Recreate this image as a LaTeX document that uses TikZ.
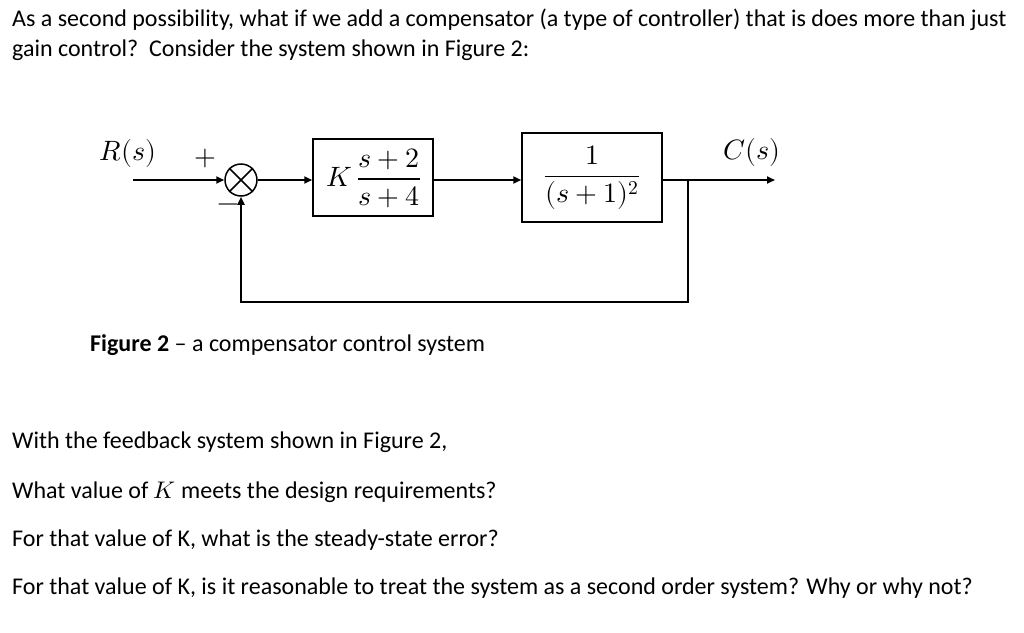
\documentclass[tikz,border=0pt]{standalone}
\usepackage{fontspec}
\usepackage{unicode-math}
\setmainfont{Carlito}
\setmathfont{Latin Modern Math}
\usetikzlibrary{arrows.meta}
\begin{document}
\begin{tikzpicture}[x=1pt,y=-1pt,
  txt/.style={anchor=west,inner sep=0pt,font=\fontsize{24}{28}\selectfont},
  blk/.style={draw,line width=1.5pt,inner sep=0pt},
  sig/.style={line width=2.2pt,-{Triangle[length=8pt,width=7pt]}},
  ml/.style={inner sep=0pt,font=\fontsize{28}{32}\selectfont}]
\useasboundingbox (0,0) rectangle (1024,632);
\node[txt] (t1) at (12,20) {As a second possibility, what if we add a compensator (a type of controller) that is does more than just};
\node[txt] (t2) at (12,50) {gain control?\ \ Consider the system shown in Figure 2:};
\node[ml] (R) at (128,153) {$R(s)$};
\node[ml] (C) at (752,152) {$C(s)$};
\coordinate (in) at (133,180);
\node[draw,circle,line width=1.5pt,minimum size=32pt,inner sep=0pt] (sum) at (241,180) {};
\draw[line width=1.5pt] (sum.north west)--(sum.south east) (sum.north east)--(sum.south west);
\node[ml] (plus) at (205,158) {$+$};
\node[ml] (minus) at (228,208) {$-$};
\node[blk,minimum width=120pt,minimum height=77pt] (b1) at (373,177.5) {};
\node[ml] (k) at (374,178) {$K\,\displaystyle\frac{s+2}{s+4}$};
\node[blk,minimum width=140pt,minimum height=89pt] (b2) at (592,177.5) {};
\node[ml] (g) at (592,178) {$\displaystyle\frac{1}{(s+1)^2}$};
\coordinate (out) at (775,180);
\coordinate (br) at (688,180);
\coordinate (fb1) at (688,302);
\coordinate (fb2) at (241,302);
\draw[sig] (in) -- (sum.west);
\draw[sig] (sum.east) -- (b1.west|-sum);
\draw[sig] (b1.east|-sum) -- (b2.west|-sum);
\draw[sig] (b2.east|-sum) -- (out);
\draw[sig] (br) -- (fb1) -- (fb2) -- (sum.south);
\node[txt] (cap) at (90,345) {\textbf{Figure 2} – a compensator control system};
\node[txt] (q1) at (12,442) {With the feedback system shown in Figure 2,};
\node[txt] (q2) at (12,492) {What value of $K$ meets the design requirements?};
\node[txt] (q3) at (12,540) {For that value of K, what is the steady-state error?};
\node[txt] (q4) at (12,588) {For that value of K, is it reasonable to treat the system as a second order system? Why or why not?};
\end{tikzpicture}
\end{document}
